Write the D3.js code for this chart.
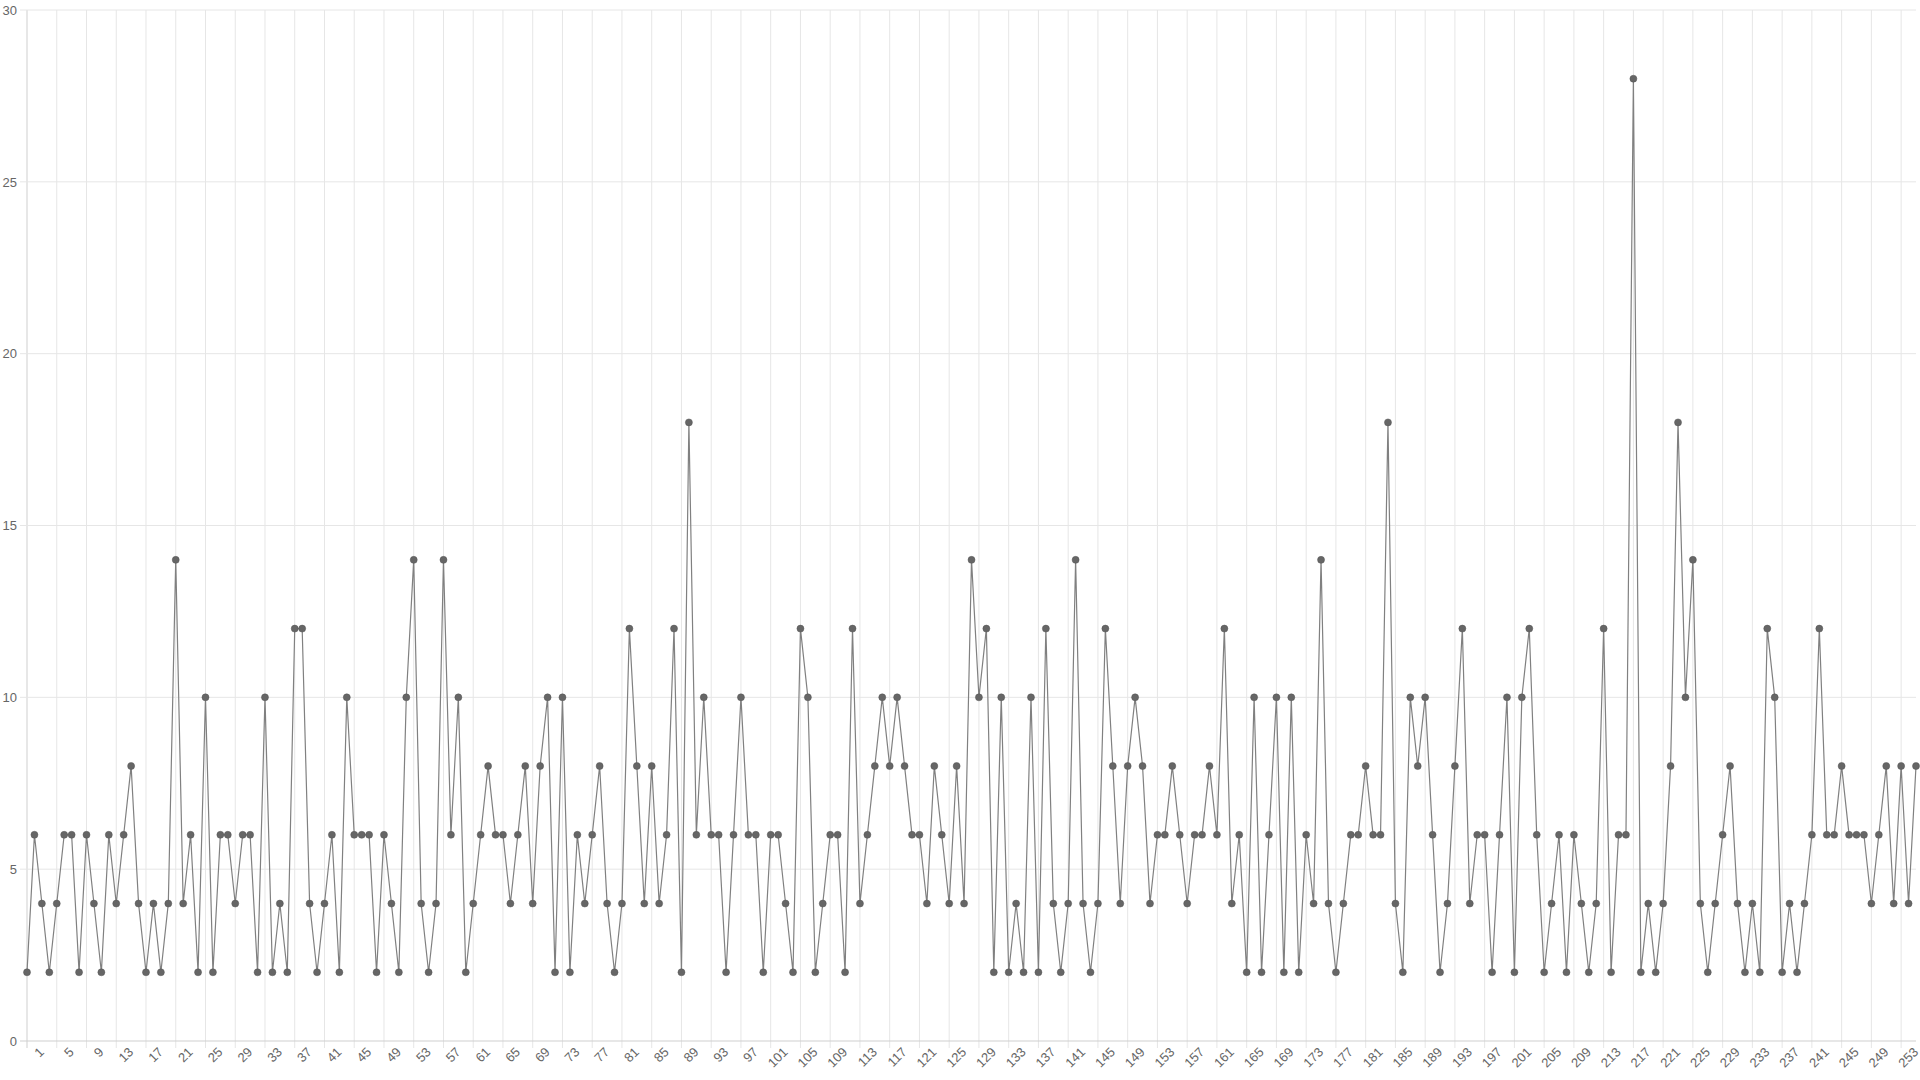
<!DOCTYPE html>
<html>
<head>
<meta charset="utf-8">
<script src="https://cdn.jsdelivr.net/npm/d3@7"></script>
<style>
  body { margin: 0; background: #fff; font-family: "Helvetica Neue", "Liberation Sans", Arial, sans-serif; }
  .tick text { fill: #666; font-size: 13px; }
</style>
</head>
<body>
<svg id="chart" width="1920" height="1080"></svg>
<script>
var values = [2,6,4,2,4,6,6,2,6,4, 2,6,4,6,8,4,2,4,2,4,
  14,4,6,2,10,2,6,6,4,6, 6,2,10,2,4,2,12,12,4,2,
  4,6,2,10,6,6,6,2,6,4, 2,10,14,4,2,4,14,6,10,2,
  4,6,8,6,6,4,6,8,4,8, 10,2,10,2,6,4,6,8,4,2,
  4,12,8,4,8,4,6,12,2,18, 6,10,6,6,2,6,10,6,6,2,
  6,6,4,2,12,10,2,4,6,6, 2,12,4,6,8,10,8,10,8,6,
  6,4,8,6,4,8,4,14,10,12, 2,10,2,4,2,10,2,12,4,2,
  4,14,4,2,4,12,8,4,8,10, 8,4,6,6,8,6,4,6,6,8,
  6,12,4,6,2,10,2,6,10,2, 10,2,6,4,14,4,2,4,6,6,
  8,6,6,18,4,2,10,8,10,6, 2,4,8,12,4,6,6,2,6,10,
  2,10,12,6,2,4,6,2,6,4, 2,4,12,2,6,6,28,2,4,2,
  4,8,18,10,14,4,2,4,6,8, 4,2,4,2,12,10,2,4,2,4,
  6,12,6,6,8,6,6,6,4,6, 8,4,8,4,8];
var categories = values.map(function (v, i) { return i + 1; });
var yTicks = [0, 5, 10, 15, 20, 25, 30];

var margin = { top: 10, right: 4, bottom: 39, left: 27 },
    width = 1920 - margin.left - margin.right,
    height = 1080 - margin.top - margin.bottom;

var svg = d3.select('#chart'),
    g = svg.append('g').attr('transform', 'translate(' + margin.left + ',' + margin.top + ')');

var x = d3.scalePoint().domain(categories).range([0, width]);
var y = d3.scaleLinear().domain([0, 30]).range([height, 0]);

var xTickVals = categories.filter(function (c) { return (c - 1) % 4 === 0; });

// grid
g.append('g').selectAll('line').data(xTickVals).enter().append('line')
  .attr('x1', function (d) { return x(d); }).attr('x2', function (d) { return x(d); })
  .attr('y1', 0).attr('y2', height + 7)
  .attr('stroke', function (d) { return d === 1 ? '#cfcfcf' : '#e6e6e6'; });
g.append('g').selectAll('line').data(yTicks).enter().append('line')
  .attr('x1', -7).attr('x2', width)
  .attr('y1', function (d) { return y(d); }).attr('y2', function (d) { return y(d); })
  .attr('stroke', function (d) { return d === 0 ? '#cfcfcf' : '#e6e6e6'; });

var yAxis = g.append('g').call(d3.axisLeft(y).tickValues(yTicks).tickSize(0).tickPadding(10));
yAxis.select('.domain').remove();

var xAxis = g.append('g').attr('transform', 'translate(0,' + height + ')')
  .call(d3.axisBottom(x).tickValues(xTickVals).tickSize(0).tickPadding(9));
xAxis.select('.domain').remove();
xAxis.selectAll('text')
  .attr('text-anchor', 'end')
  .attr('dx', '0.3em').attr('dy', '0.9em')
  .attr('transform', 'rotate(-45)');

var line = d3.line()
  .x(function (d, i) { return x(categories[i]); })
  .y(function (d) { return y(d); });

g.append('path').datum(values)
  .attr('d', line)
  .attr('fill', 'none')
  .attr('stroke', '#808080')
  .attr('stroke-width', 1.2);

g.append('g').selectAll('circle').data(values).enter().append('circle')
  .attr('cx', function (d, i) { return x(categories[i]); })
  .attr('cy', function (d) { return y(d); })
  .attr('r', 3.5)
  .attr('fill', '#666')
  .attr('stroke', '#555')
  .attr('stroke-width', 0.5);
</script>
</body>
</html>
